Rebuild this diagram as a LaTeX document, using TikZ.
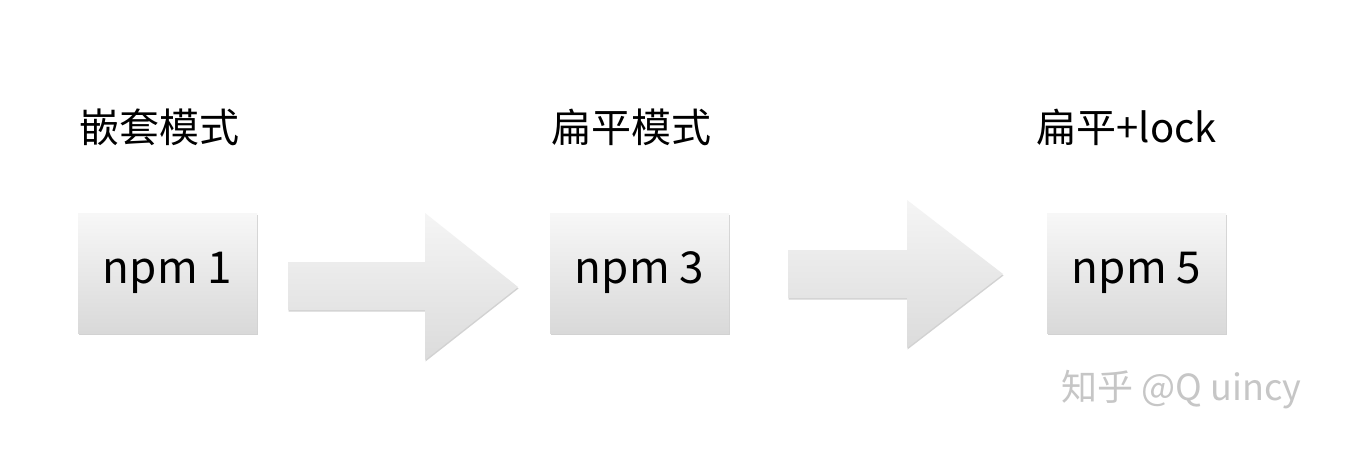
\documentclass[tikz,border=0pt]{standalone}
\usepackage{fontspec}
\setmainfont{Noto Sans CJK SC}
\usetikzlibrary{shadows}
\begin{document}
\begin{tikzpicture}[x=1pt,y=-1pt,
  box/.style={rectangle,minimum width=179pt,minimum height=120pt,inner sep=0pt,
    top color=gray!6,bottom color=gray!30,draw=none,
    drop shadow={opacity=0.35,shadow xshift=0.5pt,shadow yshift=-1.5pt},
    font=\fontsize{44}{48}\selectfont},
  title/.style={anchor=west,font=\fontsize{40}{44}\selectfont},
  bigarrow/.style={top color=gray!8,bottom color=gray!28,draw=none,
    drop shadow={opacity=0.35,shadow xshift=0.5pt,shadow yshift=-1.5pt}}]
\useasboundingbox[fill=white] (0,0) rectangle (1372,450);
\node[title] (t1) at (76,127) {嵌套模式};
\node[title] (t2) at (548,127) {扁平模式};
\node[title] (t3) at (1033,127) {扁平+lock};
\node[box] (b1) at (167.5,273) {npm 1};
\node[box] (b2) at (639.5,273) {npm 3};
\node[box] (b3) at (1136.5,273) {npm 5};
\path[bigarrow] (288,262) -- (425,262) -- (425,213) -- (518,287) -- (425,360) -- (425,310) -- (288,310) -- cycle;
\path[bigarrow] (788,250) -- (907,250) -- (907,200) -- (1003,274) -- (907,348) -- (907,298) -- (788,298) -- cycle;
\node[anchor=west,text=gray!45,font=\fontsize{36}{40}\selectfont] (wm) at (1058,390) {知乎 @Q uincy};
\end{tikzpicture}
\end{document}
